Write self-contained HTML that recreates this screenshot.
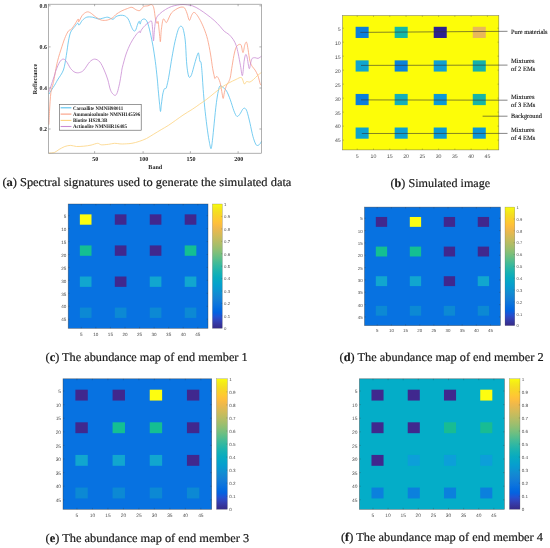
<!DOCTYPE html>
<html lang="en">
<head>
<meta charset="utf-8">
<title>Figure: simulated data and abundance maps</title>
<style>
html,body{margin:0;padding:0;background:#fff;}
body{width:550px;height:548px;overflow:hidden;}
svg{display:block;}
</style>
</head>
<body>
<svg width="550" height="548" viewBox="0 0 550 548" text-rendering="geometricPrecision">
<defs><linearGradient id="cb" x1="0" y1="0" x2="0" y2="1"><stop offset="0.0000" stop-color="#f9fb0e"/><stop offset="0.0312" stop-color="#f5eb18"/><stop offset="0.0625" stop-color="#f5de21"/><stop offset="0.0938" stop-color="#f9d329"/><stop offset="0.1250" stop-color="#fec932"/><stop offset="0.1562" stop-color="#febf3c"/><stop offset="0.1875" stop-color="#f2b949"/><stop offset="0.2188" stop-color="#e3b951"/><stop offset="0.2500" stop-color="#d3bb58"/><stop offset="0.2812" stop-color="#c2bc5f"/><stop offset="0.3125" stop-color="#b1bd66"/><stop offset="0.3438" stop-color="#9fbe6d"/><stop offset="0.3750" stop-color="#8bbf75"/><stop offset="0.4062" stop-color="#75bf7e"/><stop offset="0.4375" stop-color="#5ebe89"/><stop offset="0.4688" stop-color="#47bb95"/><stop offset="0.5000" stop-color="#33b8a1"/><stop offset="0.5312" stop-color="#21b4ac"/><stop offset="0.5625" stop-color="#13b0b6"/><stop offset="0.5938" stop-color="#09abbf"/><stop offset="0.6250" stop-color="#06a6c7"/><stop offset="0.6562" stop-color="#069fce"/><stop offset="0.6875" stop-color="#0a97d1"/><stop offset="0.7188" stop-color="#118dd2"/><stop offset="0.7500" stop-color="#1484d4"/><stop offset="0.7812" stop-color="#127cd8"/><stop offset="0.8125" stop-color="#0c74dd"/><stop offset="0.8438" stop-color="#046ce0"/><stop offset="0.8750" stop-color="#0462e0"/><stop offset="0.9062" stop-color="#2152d3"/><stop offset="0.9375" stop-color="#3243b9"/><stop offset="0.9688" stop-color="#36369f"/><stop offset="1.0000" stop-color="#352a87"/></linearGradient></defs>
<rect width="550" height="548" fill="#ffffff"/>
<g fill="none" stroke-width="0.8" stroke-linejoin="round">
<path d="M49.0 94.0C49.9 92.6 53.2 87.4 54.6 85.2C56.0 83.0 56.1 82.4 57.5 80.0C58.9 77.6 62.0 73.9 63.4 70.0C64.8 66.1 65.5 60.2 66.3 55.5C67.1 50.8 67.8 44.6 68.5 40.9C69.2 37.2 69.7 34.4 70.7 32.1C71.7 29.8 73.9 27.7 75.0 26.3C76.1 24.9 77.0 23.3 77.7 23.1C78.4 22.9 78.4 25.5 79.1 25.1C79.8 24.7 81.1 21.7 82.3 20.4C83.5 19.1 85.1 17.7 86.7 17.2C88.3 16.7 90.7 16.9 92.6 17.2C94.5 17.5 96.8 18.8 98.4 19.0C100.0 19.2 101.3 18.5 102.8 18.2C104.3 17.9 106.3 17.0 107.9 17.2C109.5 17.4 111.7 19.4 113.0 19.3C114.3 19.2 114.7 17.2 115.9 16.6C117.1 16.0 118.8 15.4 120.2 15.3C121.6 15.2 123.3 15.2 124.6 15.8C125.9 16.4 127.1 17.3 128.2 19.0C129.3 20.7 130.4 24.5 131.2 26.3C132.0 28.1 132.7 29.7 133.4 30.4C134.1 31.1 134.8 31.4 135.5 30.4C136.2 29.4 137.1 25.6 137.7 24.1C138.3 22.6 138.8 21.2 139.2 21.2C139.6 21.2 139.8 24.2 140.2 24.1C140.6 24.0 140.7 21.2 141.4 20.4C142.1 19.6 143.4 18.8 144.3 19.0C145.2 19.2 146.3 19.8 147.2 21.9C148.1 24.0 149.2 28.1 150.1 32.1C151.0 36.1 152.3 42.0 153.1 46.7C153.9 51.4 154.6 56.3 155.3 61.3C156.0 66.3 156.7 73.5 157.2 78.0C157.7 82.5 157.8 85.4 158.2 89.6C158.6 93.8 159.2 100.7 159.6 104.2C160.0 107.7 160.2 111.5 160.5 111.5C160.8 111.5 161.0 107.0 161.4 104.2C161.8 101.4 162.3 96.4 162.8 94.0C163.3 91.6 163.8 89.8 164.3 88.9C164.8 88.0 165.7 89.2 166.2 88.1C166.7 87.0 167.2 84.4 167.7 82.3C168.2 80.2 168.5 78.4 169.1 75.0C169.7 71.6 170.5 66.1 171.3 61.3C172.1 56.5 173.3 49.9 174.2 45.3C175.1 40.7 176.4 35.7 177.2 32.8C178.0 29.9 178.7 28.4 179.3 27.4C179.9 26.4 180.5 26.1 181.1 26.3C181.7 26.5 182.3 26.3 183.0 28.5C183.7 30.7 184.6 34.8 185.2 40.0C185.8 45.2 186.1 56.0 186.5 61.3C186.9 66.6 187.4 70.4 187.9 73.0C188.4 75.6 188.8 77.2 189.4 77.4C190.0 77.6 190.8 76.6 191.6 74.5C192.4 72.4 193.6 67.4 194.5 64.2C195.4 61.0 196.7 56.4 197.4 54.7C198.1 53.0 198.2 52.2 198.6 53.3C199.0 54.4 199.5 59.8 199.9 61.3C200.3 62.8 200.7 60.4 201.1 62.8C201.5 65.2 202.0 71.7 202.3 76.0C202.6 80.3 202.8 84.6 203.2 89.6C203.6 94.6 204.1 101.3 204.7 107.1C205.3 112.9 206.2 120.7 206.9 126.1C207.6 131.5 208.4 137.1 209.1 140.7C209.8 144.3 210.5 148.7 211.0 148.7C211.5 148.7 211.9 144.8 212.4 140.7C212.9 136.6 213.6 129.3 214.2 123.2C214.8 117.1 215.7 107.8 216.4 102.7C217.1 97.6 217.7 93.8 218.3 91.1C218.9 88.4 219.2 86.5 220.0 85.9C220.8 85.3 221.9 86.6 223.0 87.4C224.1 88.2 225.4 89.1 226.6 91.1C227.8 93.1 229.1 96.6 230.3 99.8C231.5 103.0 232.9 108.2 233.9 110.8C234.9 113.4 235.9 115.7 236.8 116.3C237.7 116.9 238.8 115.5 239.7 114.4C240.6 113.3 241.9 110.3 242.7 109.3C243.5 108.3 244.2 107.9 244.9 108.3C245.6 108.7 246.2 109.1 247.0 111.5C247.8 113.9 249.1 119.2 250.0 123.2C250.9 127.2 252.0 132.9 252.9 136.3C253.8 139.7 255.0 142.8 255.8 144.3C256.6 145.8 257.3 145.5 258.0 145.4C258.7 145.3 259.7 144.2 260.2 143.6C260.7 143.0 261.2 141.8 261.4 141.4" stroke="#56c0ee"/>
<path d="M48.9 124.6C49.0 122.5 49.2 116.6 49.5 111.5C49.8 106.4 50.3 96.9 50.9 92.5C51.5 88.1 52.6 85.8 53.1 83.8C53.6 81.8 53.2 83.6 53.9 80.0C54.6 76.4 56.2 66.6 57.5 61.3C58.8 56.0 60.6 50.7 61.9 46.7C63.2 42.7 64.4 39.0 65.5 36.5C66.6 34.0 67.6 32.1 68.5 30.9C69.4 29.7 70.4 30.3 71.4 29.2C72.4 28.1 73.9 25.7 75.0 24.1C76.1 22.5 77.6 19.4 78.2 19.0C78.8 18.6 78.0 22.5 78.7 21.9C79.4 21.3 81.0 16.9 82.3 15.3C83.6 13.7 85.4 12.4 86.7 12.0C88.0 11.6 89.0 12.0 90.4 12.8C91.8 13.6 93.8 15.6 95.5 16.8C97.2 18.0 99.4 19.6 101.3 20.1C103.2 20.6 105.3 20.5 107.2 20.1C109.1 19.7 111.6 18.4 113.0 17.5C114.4 16.6 114.4 15.7 115.8 14.6C117.2 13.5 119.8 11.9 121.7 10.9C123.6 9.9 125.9 9.1 127.5 8.5C129.1 7.9 130.5 7.1 131.9 7.3C133.3 7.5 135.0 9.4 136.3 9.9C137.6 10.4 138.7 11.0 139.9 10.5C141.1 10.0 142.3 7.4 143.6 6.6C144.9 5.8 146.7 6.1 148.0 5.8C149.3 5.5 150.7 4.2 151.6 4.6C152.5 5.0 153.2 5.7 153.8 8.0C154.4 10.3 155.0 16.5 155.5 19.0C156.0 21.5 156.6 22.9 157.0 23.4C157.4 23.9 157.8 20.0 158.2 21.9C158.6 23.8 159.2 31.8 159.6 35.0C160.0 38.2 160.1 42.5 160.4 41.6C160.7 40.7 160.9 32.8 161.4 29.2C161.9 25.6 162.5 20.1 163.3 19.0C164.1 17.9 165.4 22.6 166.2 22.6C167.0 22.6 167.6 20.5 168.4 19.0C169.2 17.5 170.1 14.6 171.3 13.1C172.5 11.6 174.3 10.4 175.7 9.5C177.1 8.6 178.8 7.7 180.1 7.3C181.4 6.9 182.8 6.9 183.7 7.3C184.6 7.7 184.9 8.4 185.5 9.5C186.1 10.6 186.6 12.2 187.2 13.9C187.8 15.6 188.7 20.2 189.4 20.4C190.1 20.6 190.9 16.6 191.6 15.3C192.3 14.0 193.0 12.5 193.8 12.4C194.6 12.3 195.7 13.3 196.7 14.6C197.7 15.9 199.1 18.2 200.3 20.4C201.5 22.6 202.8 25.5 204.0 28.5C205.2 31.5 206.6 35.3 207.6 39.4C208.6 43.5 209.7 49.3 210.5 54.0C211.3 58.7 212.1 65.1 212.7 68.6C213.3 72.1 213.8 74.3 214.2 75.9C214.6 77.5 214.4 78.5 214.9 78.6C215.4 78.7 216.3 75.9 217.1 76.5C217.9 77.1 219.2 79.5 220.0 82.3C220.8 85.1 221.7 91.4 222.2 94.0C222.7 96.6 222.8 98.6 223.2 98.4C223.6 98.2 223.9 94.6 224.4 92.5C224.9 90.4 225.9 86.9 226.6 85.2C227.3 83.5 228.2 82.9 228.8 81.6C229.4 80.3 229.9 79.1 230.4 77.0C230.9 74.9 231.1 72.0 231.7 68.6C232.3 65.2 233.2 58.9 233.9 55.5C234.6 52.1 235.3 49.2 236.1 47.4C236.9 45.6 238.2 44.8 239.0 44.5C239.8 44.2 240.6 44.0 241.2 45.3C241.8 46.6 242.4 52.7 243.0 52.6C243.6 52.5 244.3 46.1 244.9 44.5C245.5 42.9 246.1 41.5 246.6 42.3C247.1 43.1 247.6 46.6 248.1 49.6C248.6 52.6 249.3 58.6 250.0 61.3C250.7 64.0 251.4 65.0 252.2 66.4C253.0 67.8 254.2 68.6 255.1 70.1C256.0 71.6 257.2 73.7 258.0 75.9C258.8 78.1 259.7 82.3 260.2 83.8C260.7 85.3 261.2 85.0 261.4 85.2" stroke="#fa9d80"/>
<path d="M49.0 153.1C49.9 153.0 53.0 153.0 54.6 152.4C56.2 151.8 57.4 150.4 59.0 149.5C60.6 148.6 62.9 147.2 64.8 146.5C66.7 145.8 68.8 145.4 70.7 145.4C72.6 145.4 74.4 146.4 76.5 146.5C78.6 146.6 81.5 146.4 83.8 146.2C86.1 146.0 88.9 145.6 91.1 145.1C93.3 144.6 96.1 143.3 97.7 143.3C99.3 143.3 99.6 144.6 101.3 144.8C103.0 145.0 106.5 144.5 108.6 144.3C110.7 144.1 112.7 143.4 114.5 143.3C116.3 143.2 118.4 143.8 120.0 143.9C121.6 144.0 122.7 144.0 124.6 143.9C126.5 143.8 129.6 143.7 131.9 143.3C134.2 142.9 136.9 142.2 139.2 141.4C141.5 140.6 144.2 139.7 146.5 138.5C148.8 137.3 151.5 135.5 153.8 134.1C156.1 132.7 158.8 131.1 161.1 129.7C163.4 128.3 166.1 126.9 168.4 125.4C170.7 123.9 173.4 121.9 175.7 120.3C178.0 118.7 180.3 116.9 183.0 115.1C185.7 113.3 189.6 111.0 192.3 109.3C195.0 107.6 197.3 105.8 199.6 104.2C201.9 102.6 204.6 100.9 206.9 99.1C209.2 97.3 211.9 95.1 214.2 93.2C216.5 91.3 219.2 89.0 221.5 87.4C223.8 85.8 226.5 84.3 228.8 83.0C231.1 81.7 234.1 80.3 236.1 79.4C238.1 78.5 240.2 76.9 241.5 77.6C242.8 78.3 243.5 83.4 244.3 84.0C245.1 84.6 245.6 81.9 246.5 81.6C247.4 81.3 248.9 82.4 250.0 82.0C251.1 81.6 252.4 80.4 253.6 79.4C254.8 78.4 256.1 76.8 257.3 75.7C258.5 74.6 260.7 73.0 261.4 72.5" stroke="#fdd37f"/>
<path d="M49.0 91.8C49.5 90.5 50.8 86.5 51.7 83.8C52.6 81.1 53.9 77.2 54.6 75.0C55.3 72.8 55.3 72.1 56.1 70.0C56.9 67.9 58.6 63.7 59.7 62.0C60.8 60.3 62.0 59.2 63.1 59.1C64.2 59.0 65.1 59.8 66.3 61.3C67.5 62.8 69.3 66.8 70.7 68.6C72.1 70.4 73.6 71.7 75.0 72.3C76.4 72.9 78.0 73.0 79.4 72.6C80.8 72.2 82.2 71.8 83.8 70.1C85.4 68.4 87.9 63.8 89.6 62.0C91.3 60.2 93.1 59.1 94.7 59.1C96.3 59.1 98.4 60.2 99.9 62.0C101.4 63.8 102.9 67.2 104.2 70.1C105.5 73.0 107.0 77.0 107.9 80.0C108.8 83.0 109.4 86.8 110.1 88.9C110.8 91.0 111.4 92.2 112.2 93.2C113.0 94.2 114.3 95.5 115.1 95.4C115.9 95.3 116.6 94.4 117.3 92.5C118.0 90.6 118.8 86.9 119.5 83.8C120.2 80.7 120.9 75.7 121.4 73.0C121.9 70.3 121.6 70.2 122.4 67.2C123.2 64.2 124.8 57.7 126.1 54.0C127.4 50.3 129.0 46.6 130.4 43.8C131.8 41.0 133.4 38.5 134.8 36.5C136.2 34.5 138.3 32.0 139.2 31.4C140.1 30.8 139.8 33.0 140.2 32.8C140.6 32.6 140.6 31.1 141.4 29.9C142.2 28.7 143.8 26.7 145.0 25.5C146.2 24.3 147.6 23.3 148.7 22.6C149.8 21.9 151.0 20.1 151.6 21.2C152.2 22.3 152.3 26.0 152.6 29.2C152.9 32.4 153.2 40.9 153.5 40.9C153.8 40.9 154.1 32.7 154.5 29.2C154.9 25.7 155.2 21.4 156.0 19.0C156.8 16.6 158.1 15.4 159.6 13.9C161.1 12.4 163.6 10.7 165.5 9.5C167.4 8.3 169.4 7.3 171.3 6.6C173.2 5.9 175.3 5.4 177.2 5.1C179.1 4.8 180.6 4.4 183.0 4.5C185.4 4.6 189.6 5.0 192.3 5.8C195.0 6.6 197.3 8.1 199.6 9.5C201.9 10.9 204.6 12.9 206.9 14.6C209.2 16.3 212.1 18.5 214.2 20.4C216.3 22.3 218.4 24.5 220.0 26.3C221.6 28.1 223.0 30.1 224.4 31.4C225.8 32.7 227.4 33.0 228.8 34.3C230.2 35.6 232.0 37.6 233.2 39.4C234.4 41.2 235.3 43.0 236.1 45.3C236.9 47.6 237.6 50.7 238.3 54.0C239.0 57.3 239.8 62.2 240.5 65.7C241.2 69.2 241.8 76.3 242.4 75.6C243.0 74.9 243.6 64.6 244.1 61.3C244.6 58.0 245.1 55.4 245.6 54.7C246.1 54.0 246.4 54.7 247.0 56.9C247.6 59.1 248.6 67.7 249.2 68.6C249.8 69.5 250.2 64.4 250.7 62.8C251.2 61.2 251.5 59.2 252.2 58.4C252.9 57.6 254.2 57.7 255.1 57.7C256.0 57.7 257.0 58.6 258.0 58.4C259.0 58.2 260.9 56.6 261.4 56.2" stroke="#c98bd3"/>
</g>
<rect x="48.6" y="4.2" width="212.8" height="149.0" fill="none" stroke="#7c7c7c" stroke-width="0.6"/>
<path d="M94.6 153.2 v-2 M94.6 4.2 v2 M143.1 153.2 v-2 M143.1 4.2 v2 M190.4 153.2 v-2 M190.4 4.2 v2 M238.1 153.2 v-2 M238.1 4.2 v2 M48.6 5.8 h2 M261.4 5.8 h-2 M48.6 46.9 h2 M261.4 46.9 h-2 M48.6 88.0 h2 M261.4 88.0 h-2 M48.6 129.0 h2 M261.4 129.0 h-2" stroke="#7c7c7c" stroke-width="0.6" fill="none"/>
<text x="95.30" y="161.00" font-family="'Liberation Serif', 'Times New Roman', serif" font-size="6.10" text-anchor="middle" fill="#222" font-weight="bold">50</text>
<text x="143.80" y="161.00" font-family="'Liberation Serif', 'Times New Roman', serif" font-size="6.10" text-anchor="middle" fill="#222" font-weight="bold">100</text>
<text x="191.10" y="161.00" font-family="'Liberation Serif', 'Times New Roman', serif" font-size="6.10" text-anchor="middle" fill="#222" font-weight="bold">150</text>
<text x="238.80" y="161.00" font-family="'Liberation Serif', 'Times New Roman', serif" font-size="6.10" text-anchor="middle" fill="#222" font-weight="bold">200</text>
<text x="46.90" y="7.80" font-family="'Liberation Serif', 'Times New Roman', serif" font-size="5.90" text-anchor="end" fill="#222" font-weight="bold">0.8</text>
<text x="46.90" y="48.90" font-family="'Liberation Serif', 'Times New Roman', serif" font-size="5.90" text-anchor="end" fill="#222" font-weight="bold">0.6</text>
<text x="46.90" y="90.00" font-family="'Liberation Serif', 'Times New Roman', serif" font-size="5.90" text-anchor="end" fill="#222" font-weight="bold">0.4</text>
<text x="46.90" y="131.00" font-family="'Liberation Serif', 'Times New Roman', serif" font-size="5.90" text-anchor="end" fill="#222" font-weight="bold">0.2</text>
<text x="155.30" y="169.40" font-family="'Liberation Serif', 'Times New Roman', serif" font-size="6.10" text-anchor="middle" fill="#222" font-weight="bold">Band</text>
<text transform="translate(37.2 79) rotate(-90)" font-family="'Liberation Serif', 'Times New Roman', serif" font-size="6.2" font-weight="bold" text-anchor="middle" fill="#222">Reflectance</text>
<rect x="59.3" y="104.5" width="81.9" height="25.7" fill="#fff" stroke="#555" stroke-width="0.6"/>
<path d="M60.6 107.8 H71.4" stroke="#56c0ee" stroke-width="1.1"/>
<text x="73.00" y="109.60" font-family="'Liberation Serif', 'Times New Roman', serif" font-size="5.30" text-anchor="start" fill="#222" font-weight="bold" textLength="50.1" lengthAdjust="spacingAndGlyphs">Carnallite NMNH98011</text>
<path d="M60.6 114.1 H71.4" stroke="#fa9d80" stroke-width="1.1"/>
<text x="73.00" y="115.90" font-family="'Liberation Serif', 'Times New Roman', serif" font-size="5.30" text-anchor="start" fill="#222" font-weight="bold" textLength="67.2" lengthAdjust="spacingAndGlyphs">Ammonioalunite NMNH145596</text>
<path d="M60.6 120.4 H71.4" stroke="#fdd37f" stroke-width="1.1"/>
<text x="73.00" y="122.20" font-family="'Liberation Serif', 'Times New Roman', serif" font-size="5.30" text-anchor="start" fill="#222" font-weight="bold" textLength="34.4" lengthAdjust="spacingAndGlyphs">Biotite HS28.3B</text>
<path d="M60.6 126.5 H71.4" stroke="#c98bd3" stroke-width="1.1"/>
<text x="73.00" y="128.30" font-family="'Liberation Serif', 'Times New Roman', serif" font-size="5.30" text-anchor="start" fill="#222" font-weight="bold" textLength="53.9" lengthAdjust="spacingAndGlyphs">Actinolite NMNHR16485</text>
<rect x="342.60" y="15.60" width="156.20" height="134.30" fill="#fdfd08"/>
<rect x="355.62" y="26.79" width="13.02" height="11.19" fill="#0b7edc"/>
<rect x="394.67" y="26.79" width="13.02" height="11.19" fill="#14b8a8"/>
<rect x="433.72" y="26.79" width="13.02" height="11.19" fill="#2d2290"/>
<rect x="472.77" y="26.79" width="13.02" height="11.19" fill="#e8b85a"/>
<rect x="355.62" y="60.37" width="13.02" height="11.19" fill="#11a5cf"/>
<rect x="394.67" y="60.37" width="13.02" height="11.19" fill="#0b82da"/>
<rect x="433.72" y="60.37" width="13.02" height="11.19" fill="#11a0d3"/>
<rect x="472.77" y="60.37" width="13.02" height="11.19" fill="#16b1ab"/>
<rect x="355.62" y="93.94" width="13.02" height="11.19" fill="#0a7ddd"/>
<rect x="394.67" y="93.94" width="13.02" height="11.19" fill="#14afba"/>
<rect x="433.72" y="93.94" width="13.02" height="11.19" fill="#0c99d6"/>
<rect x="472.77" y="93.94" width="13.02" height="11.19" fill="#18b5a5"/>
<rect x="355.62" y="127.52" width="13.02" height="11.19" fill="#0ea3cf"/>
<rect x="394.67" y="127.52" width="13.02" height="11.19" fill="#0ea0d1"/>
<rect x="433.72" y="127.52" width="13.02" height="11.19" fill="#0c99d4"/>
<rect x="472.77" y="127.52" width="13.02" height="11.19" fill="#0b96d6"/>
<rect x="342.60" y="15.60" width="156.20" height="134.30" fill="none" stroke="#333" stroke-opacity="0.6" stroke-width="0.6"/>
<text x="357.24" y="157.60" font-family="'Liberation Sans', Arial, sans-serif" font-size="5.20" text-anchor="middle" fill="#4a4a4a" font-weight="normal">5</text>
<text x="340.70" y="30.56" font-family="'Liberation Sans', Arial, sans-serif" font-size="5.20" text-anchor="end" fill="#4a4a4a" font-weight="normal">5</text>
<text x="373.51" y="157.60" font-family="'Liberation Sans', Arial, sans-serif" font-size="5.20" text-anchor="middle" fill="#4a4a4a" font-weight="normal">10</text>
<text x="340.70" y="44.55" font-family="'Liberation Sans', Arial, sans-serif" font-size="5.20" text-anchor="end" fill="#4a4a4a" font-weight="normal">10</text>
<text x="389.79" y="157.60" font-family="'Liberation Sans', Arial, sans-serif" font-size="5.20" text-anchor="middle" fill="#4a4a4a" font-weight="normal">15</text>
<text x="340.70" y="58.54" font-family="'Liberation Sans', Arial, sans-serif" font-size="5.20" text-anchor="end" fill="#4a4a4a" font-weight="normal">15</text>
<text x="406.06" y="157.60" font-family="'Liberation Sans', Arial, sans-serif" font-size="5.20" text-anchor="middle" fill="#4a4a4a" font-weight="normal">20</text>
<text x="340.70" y="72.53" font-family="'Liberation Sans', Arial, sans-serif" font-size="5.20" text-anchor="end" fill="#4a4a4a" font-weight="normal">20</text>
<text x="422.33" y="157.60" font-family="'Liberation Sans', Arial, sans-serif" font-size="5.20" text-anchor="middle" fill="#4a4a4a" font-weight="normal">25</text>
<text x="340.70" y="86.52" font-family="'Liberation Sans', Arial, sans-serif" font-size="5.20" text-anchor="end" fill="#4a4a4a" font-weight="normal">25</text>
<text x="438.60" y="157.60" font-family="'Liberation Sans', Arial, sans-serif" font-size="5.20" text-anchor="middle" fill="#4a4a4a" font-weight="normal">30</text>
<text x="340.70" y="100.51" font-family="'Liberation Sans', Arial, sans-serif" font-size="5.20" text-anchor="end" fill="#4a4a4a" font-weight="normal">30</text>
<text x="454.87" y="157.60" font-family="'Liberation Sans', Arial, sans-serif" font-size="5.20" text-anchor="middle" fill="#4a4a4a" font-weight="normal">35</text>
<text x="340.70" y="114.50" font-family="'Liberation Sans', Arial, sans-serif" font-size="5.20" text-anchor="end" fill="#4a4a4a" font-weight="normal">35</text>
<text x="471.14" y="157.60" font-family="'Liberation Sans', Arial, sans-serif" font-size="5.20" text-anchor="middle" fill="#4a4a4a" font-weight="normal">40</text>
<text x="340.70" y="128.49" font-family="'Liberation Sans', Arial, sans-serif" font-size="5.20" text-anchor="end" fill="#4a4a4a" font-weight="normal">40</text>
<text x="487.41" y="157.60" font-family="'Liberation Sans', Arial, sans-serif" font-size="5.20" text-anchor="middle" fill="#4a4a4a" font-weight="normal">45</text>
<text x="340.70" y="142.48" font-family="'Liberation Sans', Arial, sans-serif" font-size="5.20" text-anchor="end" fill="#4a4a4a" font-weight="normal">45</text>
<path d="M357.24 149.90 v-1.4 M357.24 15.60 v1.4 M342.60 28.19 h1.4 M498.80 28.19 h-1.4 M373.51 149.90 v-1.4 M373.51 15.60 v1.4 M342.60 42.18 h1.4 M498.80 42.18 h-1.4 M389.79 149.90 v-1.4 M389.79 15.60 v1.4 M342.60 56.17 h1.4 M498.80 56.17 h-1.4 M406.06 149.90 v-1.4 M406.06 15.60 v1.4 M342.60 70.16 h1.4 M498.80 70.16 h-1.4 M422.33 149.90 v-1.4 M422.33 15.60 v1.4 M342.60 84.15 h1.4 M498.80 84.15 h-1.4 M438.60 149.90 v-1.4 M438.60 15.60 v1.4 M342.60 98.14 h1.4 M498.80 98.14 h-1.4 M454.87 149.90 v-1.4 M454.87 15.60 v1.4 M342.60 112.13 h1.4 M498.80 112.13 h-1.4 M471.14 149.90 v-1.4 M471.14 15.60 v1.4 M342.60 126.12 h1.4 M498.80 126.12 h-1.4 M487.41 149.90 v-1.4 M487.41 15.60 v1.4 M342.60 140.11 h1.4 M498.80 140.11 h-1.4" stroke="#333" stroke-opacity="0.6" stroke-width="0.45" fill="none"/>
<path d="M360.3 32.4 L507.5 31.3" stroke="#333" stroke-width="0.6"/>
<path d="M361.0 65.4 L507.5 65.1" stroke="#333" stroke-width="0.6"/>
<path d="M361.0 99.9 L507.5 100.2" stroke="#333" stroke-width="0.6"/>
<path d="M361.8 133.5 L507.5 133.4" stroke="#333" stroke-width="0.6"/>
<path d="M482.6 116.2 H507.5" stroke="#333" stroke-width="0.6"/>
<text x="511.00" y="33.60" font-family="'Liberation Serif', 'Times New Roman', serif" font-size="6.60" text-anchor="start" fill="#111" font-weight="normal" stroke="#111" stroke-width="0.12" textLength="36.6" lengthAdjust="spacingAndGlyphs">Pure materials</text>
<text x="511.00" y="63.20" font-family="'Liberation Serif', 'Times New Roman', serif" font-size="6.60" text-anchor="start" fill="#111" font-weight="normal" stroke="#111" stroke-width="0.12" textLength="23.5" lengthAdjust="spacingAndGlyphs">Mixtures</text>
<text x="511.00" y="71.40" font-family="'Liberation Serif', 'Times New Roman', serif" font-size="6.60" text-anchor="start" fill="#111" font-weight="normal" stroke="#111" stroke-width="0.12" textLength="24.2" lengthAdjust="spacingAndGlyphs">of 2 EMs</text>
<text x="511.00" y="99.20" font-family="'Liberation Serif', 'Times New Roman', serif" font-size="6.60" text-anchor="start" fill="#111" font-weight="normal" stroke="#111" stroke-width="0.12" textLength="23.5" lengthAdjust="spacingAndGlyphs">Mixtures</text>
<text x="511.00" y="106.60" font-family="'Liberation Serif', 'Times New Roman', serif" font-size="6.60" text-anchor="start" fill="#111" font-weight="normal" stroke="#111" stroke-width="0.12" textLength="24.2" lengthAdjust="spacingAndGlyphs">of 3 EMs</text>
<text x="511.00" y="118.40" font-family="'Liberation Serif', 'Times New Roman', serif" font-size="6.60" text-anchor="start" fill="#111" font-weight="normal" stroke="#111" stroke-width="0.12" textLength="30.8" lengthAdjust="spacingAndGlyphs">Background</text>
<text x="511.00" y="132.30" font-family="'Liberation Serif', 'Times New Roman', serif" font-size="6.60" text-anchor="start" fill="#111" font-weight="normal" stroke="#111" stroke-width="0.12" textLength="23.5" lengthAdjust="spacingAndGlyphs">Mixtures</text>
<text x="511.00" y="139.50" font-family="'Liberation Serif', 'Times New Roman', serif" font-size="6.60" text-anchor="start" fill="#111" font-weight="normal" stroke="#111" stroke-width="0.12" textLength="24.2" lengthAdjust="spacingAndGlyphs">of 4 EMs</text>
<rect x="68.20" y="204.00" width="139.80" height="124.30" fill="#0772e1"/>
<rect x="79.85" y="214.36" width="11.65" height="10.36" fill="#fdfd10"/>
<rect x="114.80" y="214.36" width="11.65" height="10.36" fill="#40288e"/>
<rect x="149.75" y="214.36" width="11.65" height="10.36" fill="#40288e"/>
<rect x="184.70" y="214.36" width="11.65" height="10.36" fill="#40288e"/>
<rect x="79.85" y="245.43" width="11.65" height="10.36" fill="#14bf92"/>
<rect x="114.80" y="245.43" width="11.65" height="10.36" fill="#40288e"/>
<rect x="149.75" y="245.43" width="11.65" height="10.36" fill="#40288e"/>
<rect x="184.70" y="245.43" width="11.65" height="10.36" fill="#14bf92"/>
<rect x="79.85" y="276.51" width="11.65" height="10.36" fill="#11a6cf"/>
<rect x="114.80" y="276.51" width="11.65" height="10.36" fill="#40288e"/>
<rect x="149.75" y="276.51" width="11.65" height="10.36" fill="#11a6cf"/>
<rect x="184.70" y="276.51" width="11.65" height="10.36" fill="#11a6cf"/>
<rect x="79.85" y="307.58" width="11.65" height="10.36" fill="#0c89d4"/>
<rect x="114.80" y="307.58" width="11.65" height="10.36" fill="#0c89d4"/>
<rect x="149.75" y="307.58" width="11.65" height="10.36" fill="#0c89d4"/>
<rect x="184.70" y="307.58" width="11.65" height="10.36" fill="#0c89d4"/>
<rect x="68.20" y="204.00" width="139.80" height="124.30" fill="none" stroke="#333" stroke-opacity="0.6" stroke-width="0.6"/>
<text x="81.31" y="335.50" font-family="'Liberation Sans', Arial, sans-serif" font-size="4.60" text-anchor="middle" fill="#4a4a4a" font-weight="normal">5</text>
<text x="66.30" y="217.81" font-family="'Liberation Sans', Arial, sans-serif" font-size="4.60" text-anchor="end" fill="#4a4a4a" font-weight="normal">5</text>
<text x="95.87" y="335.50" font-family="'Liberation Sans', Arial, sans-serif" font-size="4.60" text-anchor="middle" fill="#4a4a4a" font-weight="normal">10</text>
<text x="66.30" y="230.76" font-family="'Liberation Sans', Arial, sans-serif" font-size="4.60" text-anchor="end" fill="#4a4a4a" font-weight="normal">10</text>
<text x="110.43" y="335.50" font-family="'Liberation Sans', Arial, sans-serif" font-size="4.60" text-anchor="middle" fill="#4a4a4a" font-weight="normal">15</text>
<text x="66.30" y="243.70" font-family="'Liberation Sans', Arial, sans-serif" font-size="4.60" text-anchor="end" fill="#4a4a4a" font-weight="normal">15</text>
<text x="124.99" y="335.50" font-family="'Liberation Sans', Arial, sans-serif" font-size="4.60" text-anchor="middle" fill="#4a4a4a" font-weight="normal">20</text>
<text x="66.30" y="256.65" font-family="'Liberation Sans', Arial, sans-serif" font-size="4.60" text-anchor="end" fill="#4a4a4a" font-weight="normal">20</text>
<text x="139.56" y="335.50" font-family="'Liberation Sans', Arial, sans-serif" font-size="4.60" text-anchor="middle" fill="#4a4a4a" font-weight="normal">25</text>
<text x="66.30" y="269.60" font-family="'Liberation Sans', Arial, sans-serif" font-size="4.60" text-anchor="end" fill="#4a4a4a" font-weight="normal">25</text>
<text x="154.12" y="335.50" font-family="'Liberation Sans', Arial, sans-serif" font-size="4.60" text-anchor="middle" fill="#4a4a4a" font-weight="normal">30</text>
<text x="66.30" y="282.55" font-family="'Liberation Sans', Arial, sans-serif" font-size="4.60" text-anchor="end" fill="#4a4a4a" font-weight="normal">30</text>
<text x="168.68" y="335.50" font-family="'Liberation Sans', Arial, sans-serif" font-size="4.60" text-anchor="middle" fill="#4a4a4a" font-weight="normal">35</text>
<text x="66.30" y="295.50" font-family="'Liberation Sans', Arial, sans-serif" font-size="4.60" text-anchor="end" fill="#4a4a4a" font-weight="normal">35</text>
<text x="183.24" y="335.50" font-family="'Liberation Sans', Arial, sans-serif" font-size="4.60" text-anchor="middle" fill="#4a4a4a" font-weight="normal">40</text>
<text x="66.30" y="308.44" font-family="'Liberation Sans', Arial, sans-serif" font-size="4.60" text-anchor="end" fill="#4a4a4a" font-weight="normal">40</text>
<text x="197.81" y="335.50" font-family="'Liberation Sans', Arial, sans-serif" font-size="4.60" text-anchor="middle" fill="#4a4a4a" font-weight="normal">45</text>
<text x="66.30" y="321.39" font-family="'Liberation Sans', Arial, sans-serif" font-size="4.60" text-anchor="end" fill="#4a4a4a" font-weight="normal">45</text>
<path d="M81.31 328.30 v-1.4 M81.31 204.00 v1.4 M68.20 215.65 h1.4 M208.00 215.65 h-1.4 M95.87 328.30 v-1.4 M95.87 204.00 v1.4 M68.20 228.60 h1.4 M208.00 228.60 h-1.4 M110.43 328.30 v-1.4 M110.43 204.00 v1.4 M68.20 241.55 h1.4 M208.00 241.55 h-1.4 M124.99 328.30 v-1.4 M124.99 204.00 v1.4 M68.20 254.50 h1.4 M208.00 254.50 h-1.4 M139.56 328.30 v-1.4 M139.56 204.00 v1.4 M68.20 267.44 h1.4 M208.00 267.44 h-1.4 M154.12 328.30 v-1.4 M154.12 204.00 v1.4 M68.20 280.39 h1.4 M208.00 280.39 h-1.4 M168.68 328.30 v-1.4 M168.68 204.00 v1.4 M68.20 293.34 h1.4 M208.00 293.34 h-1.4 M183.24 328.30 v-1.4 M183.24 204.00 v1.4 M68.20 306.29 h1.4 M208.00 306.29 h-1.4 M197.81 328.30 v-1.4 M197.81 204.00 v1.4 M68.20 319.24 h1.4 M208.00 319.24 h-1.4" stroke="#333" stroke-opacity="0.6" stroke-width="0.45" fill="none"/>
<rect x="212.40" y="204.00" width="9.90" height="124.30" fill="url(#cb)" stroke="#555" stroke-opacity="0.6" stroke-width="0.4"/>
<text x="224.10" y="330.16" font-family="'Liberation Sans', Arial, sans-serif" font-size="4.28" text-anchor="start" fill="#4a4a4a" font-weight="normal">0</text>
<text x="224.10" y="317.73" font-family="'Liberation Sans', Arial, sans-serif" font-size="4.28" text-anchor="start" fill="#4a4a4a" font-weight="normal">0.1</text>
<text x="224.10" y="305.30" font-family="'Liberation Sans', Arial, sans-serif" font-size="4.28" text-anchor="start" fill="#4a4a4a" font-weight="normal">0.2</text>
<text x="224.10" y="292.87" font-family="'Liberation Sans', Arial, sans-serif" font-size="4.28" text-anchor="start" fill="#4a4a4a" font-weight="normal">0.3</text>
<text x="224.10" y="280.44" font-family="'Liberation Sans', Arial, sans-serif" font-size="4.28" text-anchor="start" fill="#4a4a4a" font-weight="normal">0.4</text>
<text x="224.10" y="268.01" font-family="'Liberation Sans', Arial, sans-serif" font-size="4.28" text-anchor="start" fill="#4a4a4a" font-weight="normal">0.5</text>
<text x="224.10" y="255.58" font-family="'Liberation Sans', Arial, sans-serif" font-size="4.28" text-anchor="start" fill="#4a4a4a" font-weight="normal">0.6</text>
<text x="224.10" y="243.15" font-family="'Liberation Sans', Arial, sans-serif" font-size="4.28" text-anchor="start" fill="#4a4a4a" font-weight="normal">0.7</text>
<text x="224.10" y="230.72" font-family="'Liberation Sans', Arial, sans-serif" font-size="4.28" text-anchor="start" fill="#4a4a4a" font-weight="normal">0.8</text>
<text x="224.10" y="218.29" font-family="'Liberation Sans', Arial, sans-serif" font-size="4.28" text-anchor="start" fill="#4a4a4a" font-weight="normal">0.9</text>
<text x="224.10" y="205.86" font-family="'Liberation Sans', Arial, sans-serif" font-size="4.28" text-anchor="start" fill="#4a4a4a" font-weight="normal">1</text>
<path d="M222.30 315.87 h-1.2 M222.30 303.44 h-1.2 M222.30 291.01 h-1.2 M222.30 278.58 h-1.2 M222.30 266.15 h-1.2 M222.30 253.72 h-1.2 M222.30 241.29 h-1.2 M222.30 228.86 h-1.2 M222.30 216.43 h-1.2" stroke="#333" stroke-opacity="0.55" stroke-width="0.4" fill="none"/>
<rect x="364.50" y="207.10" width="135.90" height="118.50" fill="#0772e1"/>
<rect x="375.82" y="216.97" width="11.32" height="9.88" fill="#40288e"/>
<rect x="409.80" y="216.97" width="11.32" height="9.88" fill="#fdfd10"/>
<rect x="443.77" y="216.97" width="11.32" height="9.88" fill="#40288e"/>
<rect x="477.75" y="216.97" width="11.32" height="9.88" fill="#40288e"/>
<rect x="375.82" y="246.60" width="11.32" height="9.88" fill="#14bf92"/>
<rect x="409.80" y="246.60" width="11.32" height="9.88" fill="#14bf92"/>
<rect x="443.77" y="246.60" width="11.32" height="9.88" fill="#40288e"/>
<rect x="477.75" y="246.60" width="11.32" height="9.88" fill="#40288e"/>
<rect x="375.82" y="276.23" width="11.32" height="9.88" fill="#11a6cf"/>
<rect x="409.80" y="276.23" width="11.32" height="9.88" fill="#11a6cf"/>
<rect x="443.77" y="276.23" width="11.32" height="9.88" fill="#40288e"/>
<rect x="477.75" y="276.23" width="11.32" height="9.88" fill="#11a6cf"/>
<rect x="375.82" y="305.85" width="11.32" height="9.88" fill="#0c89d4"/>
<rect x="409.80" y="305.85" width="11.32" height="9.88" fill="#0c89d4"/>
<rect x="443.77" y="305.85" width="11.32" height="9.88" fill="#0c89d4"/>
<rect x="477.75" y="305.85" width="11.32" height="9.88" fill="#0c89d4"/>
<rect x="364.50" y="207.10" width="135.90" height="118.50" fill="none" stroke="#333" stroke-opacity="0.6" stroke-width="0.6"/>
<text x="377.24" y="332.40" font-family="'Liberation Sans', Arial, sans-serif" font-size="4.40" text-anchor="middle" fill="#4a4a4a" font-weight="normal">5</text>
<text x="362.60" y="220.29" font-family="'Liberation Sans', Arial, sans-serif" font-size="4.40" text-anchor="end" fill="#4a4a4a" font-weight="normal">5</text>
<text x="391.40" y="332.40" font-family="'Liberation Sans', Arial, sans-serif" font-size="4.40" text-anchor="middle" fill="#4a4a4a" font-weight="normal">10</text>
<text x="362.60" y="232.64" font-family="'Liberation Sans', Arial, sans-serif" font-size="4.40" text-anchor="end" fill="#4a4a4a" font-weight="normal">10</text>
<text x="405.55" y="332.40" font-family="'Liberation Sans', Arial, sans-serif" font-size="4.40" text-anchor="middle" fill="#4a4a4a" font-weight="normal">15</text>
<text x="362.60" y="244.98" font-family="'Liberation Sans', Arial, sans-serif" font-size="4.40" text-anchor="end" fill="#4a4a4a" font-weight="normal">15</text>
<text x="419.71" y="332.40" font-family="'Liberation Sans', Arial, sans-serif" font-size="4.40" text-anchor="middle" fill="#4a4a4a" font-weight="normal">20</text>
<text x="362.60" y="257.32" font-family="'Liberation Sans', Arial, sans-serif" font-size="4.40" text-anchor="end" fill="#4a4a4a" font-weight="normal">20</text>
<text x="433.87" y="332.40" font-family="'Liberation Sans', Arial, sans-serif" font-size="4.40" text-anchor="middle" fill="#4a4a4a" font-weight="normal">25</text>
<text x="362.60" y="269.67" font-family="'Liberation Sans', Arial, sans-serif" font-size="4.40" text-anchor="end" fill="#4a4a4a" font-weight="normal">25</text>
<text x="448.02" y="332.40" font-family="'Liberation Sans', Arial, sans-serif" font-size="4.40" text-anchor="middle" fill="#4a4a4a" font-weight="normal">30</text>
<text x="362.60" y="282.01" font-family="'Liberation Sans', Arial, sans-serif" font-size="4.40" text-anchor="end" fill="#4a4a4a" font-weight="normal">30</text>
<text x="462.18" y="332.40" font-family="'Liberation Sans', Arial, sans-serif" font-size="4.40" text-anchor="middle" fill="#4a4a4a" font-weight="normal">35</text>
<text x="362.60" y="294.36" font-family="'Liberation Sans', Arial, sans-serif" font-size="4.40" text-anchor="end" fill="#4a4a4a" font-weight="normal">35</text>
<text x="476.33" y="332.40" font-family="'Liberation Sans', Arial, sans-serif" font-size="4.40" text-anchor="middle" fill="#4a4a4a" font-weight="normal">40</text>
<text x="362.60" y="306.70" font-family="'Liberation Sans', Arial, sans-serif" font-size="4.40" text-anchor="end" fill="#4a4a4a" font-weight="normal">40</text>
<text x="490.49" y="332.40" font-family="'Liberation Sans', Arial, sans-serif" font-size="4.40" text-anchor="middle" fill="#4a4a4a" font-weight="normal">45</text>
<text x="362.60" y="319.04" font-family="'Liberation Sans', Arial, sans-serif" font-size="4.40" text-anchor="end" fill="#4a4a4a" font-weight="normal">45</text>
<path d="M377.24 325.60 v-1.4 M377.24 207.10 v1.4 M364.50 218.21 h1.4 M500.40 218.21 h-1.4 M391.40 325.60 v-1.4 M391.40 207.10 v1.4 M364.50 230.55 h1.4 M500.40 230.55 h-1.4 M405.55 325.60 v-1.4 M405.55 207.10 v1.4 M364.50 242.90 h1.4 M500.40 242.90 h-1.4 M419.71 325.60 v-1.4 M419.71 207.10 v1.4 M364.50 255.24 h1.4 M500.40 255.24 h-1.4 M433.87 325.60 v-1.4 M433.87 207.10 v1.4 M364.50 267.58 h1.4 M500.40 267.58 h-1.4 M448.02 325.60 v-1.4 M448.02 207.10 v1.4 M364.50 279.93 h1.4 M500.40 279.93 h-1.4 M462.18 325.60 v-1.4 M462.18 207.10 v1.4 M364.50 292.27 h1.4 M500.40 292.27 h-1.4 M476.33 325.60 v-1.4 M476.33 207.10 v1.4 M364.50 304.62 h1.4 M500.40 304.62 h-1.4 M490.49 325.60 v-1.4 M490.49 207.10 v1.4 M364.50 316.96 h1.4 M500.40 316.96 h-1.4" stroke="#333" stroke-opacity="0.6" stroke-width="0.45" fill="none"/>
<rect x="505.00" y="207.10" width="9.80" height="118.50" fill="url(#cb)" stroke="#555" stroke-opacity="0.6" stroke-width="0.4"/>
<text x="516.60" y="327.38" font-family="'Liberation Sans', Arial, sans-serif" font-size="4.09" text-anchor="start" fill="#4a4a4a" font-weight="normal">0</text>
<text x="516.60" y="315.53" font-family="'Liberation Sans', Arial, sans-serif" font-size="4.09" text-anchor="start" fill="#4a4a4a" font-weight="normal">0.1</text>
<text x="516.60" y="303.68" font-family="'Liberation Sans', Arial, sans-serif" font-size="4.09" text-anchor="start" fill="#4a4a4a" font-weight="normal">0.2</text>
<text x="516.60" y="291.83" font-family="'Liberation Sans', Arial, sans-serif" font-size="4.09" text-anchor="start" fill="#4a4a4a" font-weight="normal">0.3</text>
<text x="516.60" y="279.98" font-family="'Liberation Sans', Arial, sans-serif" font-size="4.09" text-anchor="start" fill="#4a4a4a" font-weight="normal">0.4</text>
<text x="516.60" y="268.13" font-family="'Liberation Sans', Arial, sans-serif" font-size="4.09" text-anchor="start" fill="#4a4a4a" font-weight="normal">0.5</text>
<text x="516.60" y="256.28" font-family="'Liberation Sans', Arial, sans-serif" font-size="4.09" text-anchor="start" fill="#4a4a4a" font-weight="normal">0.6</text>
<text x="516.60" y="244.43" font-family="'Liberation Sans', Arial, sans-serif" font-size="4.09" text-anchor="start" fill="#4a4a4a" font-weight="normal">0.7</text>
<text x="516.60" y="232.58" font-family="'Liberation Sans', Arial, sans-serif" font-size="4.09" text-anchor="start" fill="#4a4a4a" font-weight="normal">0.8</text>
<text x="516.60" y="220.73" font-family="'Liberation Sans', Arial, sans-serif" font-size="4.09" text-anchor="start" fill="#4a4a4a" font-weight="normal">0.9</text>
<text x="516.60" y="208.88" font-family="'Liberation Sans', Arial, sans-serif" font-size="4.09" text-anchor="start" fill="#4a4a4a" font-weight="normal">1</text>
<path d="M514.80 313.75 h-1.2 M514.80 301.90 h-1.2 M514.80 290.05 h-1.2 M514.80 278.20 h-1.2 M514.80 266.35 h-1.2 M514.80 254.50 h-1.2 M514.80 242.65 h-1.2 M514.80 230.80 h-1.2 M514.80 218.95 h-1.2" stroke="#333" stroke-opacity="0.55" stroke-width="0.4" fill="none"/>
<rect x="63.00" y="378.80" width="148.70" height="130.50" fill="#0772e1"/>
<rect x="75.39" y="389.68" width="12.39" height="10.88" fill="#40288e"/>
<rect x="112.57" y="389.68" width="12.39" height="10.88" fill="#40288e"/>
<rect x="149.74" y="389.68" width="12.39" height="10.88" fill="#fdfd10"/>
<rect x="186.92" y="389.68" width="12.39" height="10.88" fill="#40288e"/>
<rect x="75.39" y="422.30" width="12.39" height="10.88" fill="#40288e"/>
<rect x="112.57" y="422.30" width="12.39" height="10.88" fill="#14bf92"/>
<rect x="149.74" y="422.30" width="12.39" height="10.88" fill="#14bf92"/>
<rect x="186.92" y="422.30" width="12.39" height="10.88" fill="#40288e"/>
<rect x="75.39" y="454.93" width="12.39" height="10.88" fill="#11a6cf"/>
<rect x="112.57" y="454.93" width="12.39" height="10.88" fill="#11a6cf"/>
<rect x="149.74" y="454.93" width="12.39" height="10.88" fill="#11a6cf"/>
<rect x="186.92" y="454.93" width="12.39" height="10.88" fill="#40288e"/>
<rect x="75.39" y="487.55" width="12.39" height="10.88" fill="#0c89d4"/>
<rect x="112.57" y="487.55" width="12.39" height="10.88" fill="#0c89d4"/>
<rect x="149.74" y="487.55" width="12.39" height="10.88" fill="#0c89d4"/>
<rect x="186.92" y="487.55" width="12.39" height="10.88" fill="#0c89d4"/>
<rect x="63.00" y="378.80" width="148.70" height="130.50" fill="none" stroke="#333" stroke-opacity="0.6" stroke-width="0.6"/>
<text x="76.94" y="516.70" font-family="'Liberation Sans', Arial, sans-serif" font-size="4.90" text-anchor="middle" fill="#4a4a4a" font-weight="normal">5</text>
<text x="61.10" y="393.30" font-family="'Liberation Sans', Arial, sans-serif" font-size="4.90" text-anchor="end" fill="#4a4a4a" font-weight="normal">5</text>
<text x="92.43" y="516.70" font-family="'Liberation Sans', Arial, sans-serif" font-size="4.90" text-anchor="middle" fill="#4a4a4a" font-weight="normal">10</text>
<text x="61.10" y="406.89" font-family="'Liberation Sans', Arial, sans-serif" font-size="4.90" text-anchor="end" fill="#4a4a4a" font-weight="normal">10</text>
<text x="107.92" y="516.70" font-family="'Liberation Sans', Arial, sans-serif" font-size="4.90" text-anchor="middle" fill="#4a4a4a" font-weight="normal">15</text>
<text x="61.10" y="420.49" font-family="'Liberation Sans', Arial, sans-serif" font-size="4.90" text-anchor="end" fill="#4a4a4a" font-weight="normal">15</text>
<text x="123.41" y="516.70" font-family="'Liberation Sans', Arial, sans-serif" font-size="4.90" text-anchor="middle" fill="#4a4a4a" font-weight="normal">20</text>
<text x="61.10" y="434.08" font-family="'Liberation Sans', Arial, sans-serif" font-size="4.90" text-anchor="end" fill="#4a4a4a" font-weight="normal">20</text>
<text x="138.90" y="516.70" font-family="'Liberation Sans', Arial, sans-serif" font-size="4.90" text-anchor="middle" fill="#4a4a4a" font-weight="normal">25</text>
<text x="61.10" y="447.67" font-family="'Liberation Sans', Arial, sans-serif" font-size="4.90" text-anchor="end" fill="#4a4a4a" font-weight="normal">25</text>
<text x="154.39" y="516.70" font-family="'Liberation Sans', Arial, sans-serif" font-size="4.90" text-anchor="middle" fill="#4a4a4a" font-weight="normal">30</text>
<text x="61.10" y="461.27" font-family="'Liberation Sans', Arial, sans-serif" font-size="4.90" text-anchor="end" fill="#4a4a4a" font-weight="normal">30</text>
<text x="169.88" y="516.70" font-family="'Liberation Sans', Arial, sans-serif" font-size="4.90" text-anchor="middle" fill="#4a4a4a" font-weight="normal">35</text>
<text x="61.10" y="474.86" font-family="'Liberation Sans', Arial, sans-serif" font-size="4.90" text-anchor="end" fill="#4a4a4a" font-weight="normal">35</text>
<text x="185.37" y="516.70" font-family="'Liberation Sans', Arial, sans-serif" font-size="4.90" text-anchor="middle" fill="#4a4a4a" font-weight="normal">40</text>
<text x="61.10" y="488.45" font-family="'Liberation Sans', Arial, sans-serif" font-size="4.90" text-anchor="end" fill="#4a4a4a" font-weight="normal">40</text>
<text x="200.86" y="516.70" font-family="'Liberation Sans', Arial, sans-serif" font-size="4.90" text-anchor="middle" fill="#4a4a4a" font-weight="normal">45</text>
<text x="61.10" y="502.05" font-family="'Liberation Sans', Arial, sans-serif" font-size="4.90" text-anchor="end" fill="#4a4a4a" font-weight="normal">45</text>
<path d="M76.94 509.30 v-1.4 M76.94 378.80 v1.4 M63.00 391.03 h1.4 M211.70 391.03 h-1.4 M92.43 509.30 v-1.4 M92.43 378.80 v1.4 M63.00 404.63 h1.4 M211.70 404.63 h-1.4 M107.92 509.30 v-1.4 M107.92 378.80 v1.4 M63.00 418.22 h1.4 M211.70 418.22 h-1.4 M123.41 509.30 v-1.4 M123.41 378.80 v1.4 M63.00 431.82 h1.4 M211.70 431.82 h-1.4 M138.90 509.30 v-1.4 M138.90 378.80 v1.4 M63.00 445.41 h1.4 M211.70 445.41 h-1.4 M154.39 509.30 v-1.4 M154.39 378.80 v1.4 M63.00 459.00 h1.4 M211.70 459.00 h-1.4 M169.88 509.30 v-1.4 M169.88 378.80 v1.4 M63.00 472.60 h1.4 M211.70 472.60 h-1.4 M185.37 509.30 v-1.4 M185.37 378.80 v1.4 M63.00 486.19 h1.4 M211.70 486.19 h-1.4 M200.86 509.30 v-1.4 M200.86 378.80 v1.4 M63.00 499.78 h1.4 M211.70 499.78 h-1.4" stroke="#333" stroke-opacity="0.6" stroke-width="0.45" fill="none"/>
<rect x="216.50" y="378.80" width="10.90" height="130.50" fill="url(#cb)" stroke="#555" stroke-opacity="0.6" stroke-width="0.4"/>
<text x="229.20" y="511.26" font-family="'Liberation Sans', Arial, sans-serif" font-size="4.56" text-anchor="start" fill="#4a4a4a" font-weight="normal">0</text>
<text x="229.20" y="498.21" font-family="'Liberation Sans', Arial, sans-serif" font-size="4.56" text-anchor="start" fill="#4a4a4a" font-weight="normal">0.1</text>
<text x="229.20" y="485.16" font-family="'Liberation Sans', Arial, sans-serif" font-size="4.56" text-anchor="start" fill="#4a4a4a" font-weight="normal">0.2</text>
<text x="229.20" y="472.11" font-family="'Liberation Sans', Arial, sans-serif" font-size="4.56" text-anchor="start" fill="#4a4a4a" font-weight="normal">0.3</text>
<text x="229.20" y="459.06" font-family="'Liberation Sans', Arial, sans-serif" font-size="4.56" text-anchor="start" fill="#4a4a4a" font-weight="normal">0.4</text>
<text x="229.20" y="446.01" font-family="'Liberation Sans', Arial, sans-serif" font-size="4.56" text-anchor="start" fill="#4a4a4a" font-weight="normal">0.5</text>
<text x="229.20" y="432.96" font-family="'Liberation Sans', Arial, sans-serif" font-size="4.56" text-anchor="start" fill="#4a4a4a" font-weight="normal">0.6</text>
<text x="229.20" y="419.91" font-family="'Liberation Sans', Arial, sans-serif" font-size="4.56" text-anchor="start" fill="#4a4a4a" font-weight="normal">0.7</text>
<text x="229.20" y="406.86" font-family="'Liberation Sans', Arial, sans-serif" font-size="4.56" text-anchor="start" fill="#4a4a4a" font-weight="normal">0.8</text>
<text x="229.20" y="393.81" font-family="'Liberation Sans', Arial, sans-serif" font-size="4.56" text-anchor="start" fill="#4a4a4a" font-weight="normal">0.9</text>
<text x="229.20" y="380.76" font-family="'Liberation Sans', Arial, sans-serif" font-size="4.56" text-anchor="start" fill="#4a4a4a" font-weight="normal">1</text>
<path d="M227.40 496.25 h-1.2 M227.40 483.20 h-1.2 M227.40 470.15 h-1.2 M227.40 457.10 h-1.2 M227.40 444.05 h-1.2 M227.40 431.00 h-1.2 M227.40 417.95 h-1.2 M227.40 404.90 h-1.2 M227.40 391.85 h-1.2" stroke="#333" stroke-opacity="0.55" stroke-width="0.4" fill="none"/>
<rect x="359.40" y="378.80" width="145.00" height="130.50" fill="#04adc8"/>
<rect x="371.48" y="389.68" width="12.08" height="10.88" fill="#40288e"/>
<rect x="407.73" y="389.68" width="12.08" height="10.88" fill="#40288e"/>
<rect x="443.98" y="389.68" width="12.08" height="10.88" fill="#40288e"/>
<rect x="480.23" y="389.68" width="12.08" height="10.88" fill="#fdfd10"/>
<rect x="371.48" y="422.30" width="12.08" height="10.88" fill="#40288e"/>
<rect x="407.73" y="422.30" width="12.08" height="10.88" fill="#40288e"/>
<rect x="443.98" y="422.30" width="12.08" height="10.88" fill="#18bc93"/>
<rect x="480.23" y="422.30" width="12.08" height="10.88" fill="#18bc93"/>
<rect x="371.48" y="454.93" width="12.08" height="10.88" fill="#40288e"/>
<rect x="407.73" y="454.93" width="12.08" height="10.88" fill="#0c9fd9"/>
<rect x="443.98" y="454.93" width="12.08" height="10.88" fill="#0c9fd9"/>
<rect x="480.23" y="454.93" width="12.08" height="10.88" fill="#0c9fd9"/>
<rect x="371.48" y="487.55" width="12.08" height="10.88" fill="#0b80dd"/>
<rect x="407.73" y="487.55" width="12.08" height="10.88" fill="#0b80dd"/>
<rect x="443.98" y="487.55" width="12.08" height="10.88" fill="#0b80dd"/>
<rect x="480.23" y="487.55" width="12.08" height="10.88" fill="#0b80dd"/>
<rect x="359.40" y="378.80" width="145.00" height="130.50" fill="none" stroke="#333" stroke-opacity="0.6" stroke-width="0.6"/>
<text x="372.99" y="516.70" font-family="'Liberation Sans', Arial, sans-serif" font-size="4.90" text-anchor="middle" fill="#4a4a4a" font-weight="normal">5</text>
<text x="357.50" y="393.30" font-family="'Liberation Sans', Arial, sans-serif" font-size="4.90" text-anchor="end" fill="#4a4a4a" font-weight="normal">5</text>
<text x="388.10" y="516.70" font-family="'Liberation Sans', Arial, sans-serif" font-size="4.90" text-anchor="middle" fill="#4a4a4a" font-weight="normal">10</text>
<text x="357.50" y="406.89" font-family="'Liberation Sans', Arial, sans-serif" font-size="4.90" text-anchor="end" fill="#4a4a4a" font-weight="normal">10</text>
<text x="403.20" y="516.70" font-family="'Liberation Sans', Arial, sans-serif" font-size="4.90" text-anchor="middle" fill="#4a4a4a" font-weight="normal">15</text>
<text x="357.50" y="420.49" font-family="'Liberation Sans', Arial, sans-serif" font-size="4.90" text-anchor="end" fill="#4a4a4a" font-weight="normal">15</text>
<text x="418.31" y="516.70" font-family="'Liberation Sans', Arial, sans-serif" font-size="4.90" text-anchor="middle" fill="#4a4a4a" font-weight="normal">20</text>
<text x="357.50" y="434.08" font-family="'Liberation Sans', Arial, sans-serif" font-size="4.90" text-anchor="end" fill="#4a4a4a" font-weight="normal">20</text>
<text x="433.41" y="516.70" font-family="'Liberation Sans', Arial, sans-serif" font-size="4.90" text-anchor="middle" fill="#4a4a4a" font-weight="normal">25</text>
<text x="357.50" y="447.67" font-family="'Liberation Sans', Arial, sans-serif" font-size="4.90" text-anchor="end" fill="#4a4a4a" font-weight="normal">25</text>
<text x="448.51" y="516.70" font-family="'Liberation Sans', Arial, sans-serif" font-size="4.90" text-anchor="middle" fill="#4a4a4a" font-weight="normal">30</text>
<text x="357.50" y="461.27" font-family="'Liberation Sans', Arial, sans-serif" font-size="4.90" text-anchor="end" fill="#4a4a4a" font-weight="normal">30</text>
<text x="463.62" y="516.70" font-family="'Liberation Sans', Arial, sans-serif" font-size="4.90" text-anchor="middle" fill="#4a4a4a" font-weight="normal">35</text>
<text x="357.50" y="474.86" font-family="'Liberation Sans', Arial, sans-serif" font-size="4.90" text-anchor="end" fill="#4a4a4a" font-weight="normal">35</text>
<text x="478.72" y="516.70" font-family="'Liberation Sans', Arial, sans-serif" font-size="4.90" text-anchor="middle" fill="#4a4a4a" font-weight="normal">40</text>
<text x="357.50" y="488.45" font-family="'Liberation Sans', Arial, sans-serif" font-size="4.90" text-anchor="end" fill="#4a4a4a" font-weight="normal">40</text>
<text x="493.83" y="516.70" font-family="'Liberation Sans', Arial, sans-serif" font-size="4.90" text-anchor="middle" fill="#4a4a4a" font-weight="normal">45</text>
<text x="357.50" y="502.05" font-family="'Liberation Sans', Arial, sans-serif" font-size="4.90" text-anchor="end" fill="#4a4a4a" font-weight="normal">45</text>
<path d="M372.99 509.30 v-1.4 M372.99 378.80 v1.4 M359.40 391.03 h1.4 M504.40 391.03 h-1.4 M388.10 509.30 v-1.4 M388.10 378.80 v1.4 M359.40 404.63 h1.4 M504.40 404.63 h-1.4 M403.20 509.30 v-1.4 M403.20 378.80 v1.4 M359.40 418.22 h1.4 M504.40 418.22 h-1.4 M418.31 509.30 v-1.4 M418.31 378.80 v1.4 M359.40 431.82 h1.4 M504.40 431.82 h-1.4 M433.41 509.30 v-1.4 M433.41 378.80 v1.4 M359.40 445.41 h1.4 M504.40 445.41 h-1.4 M448.51 509.30 v-1.4 M448.51 378.80 v1.4 M359.40 459.00 h1.4 M504.40 459.00 h-1.4 M463.62 509.30 v-1.4 M463.62 378.80 v1.4 M359.40 472.60 h1.4 M504.40 472.60 h-1.4 M478.72 509.30 v-1.4 M478.72 378.80 v1.4 M359.40 486.19 h1.4 M504.40 486.19 h-1.4 M493.83 509.30 v-1.4 M493.83 378.80 v1.4 M359.40 499.78 h1.4 M504.40 499.78 h-1.4" stroke="#333" stroke-opacity="0.6" stroke-width="0.45" fill="none"/>
<rect x="509.40" y="378.80" width="10.60" height="130.50" fill="url(#cb)" stroke="#555" stroke-opacity="0.6" stroke-width="0.4"/>
<text x="521.80" y="511.26" font-family="'Liberation Sans', Arial, sans-serif" font-size="4.56" text-anchor="start" fill="#4a4a4a" font-weight="normal">0</text>
<text x="521.80" y="498.21" font-family="'Liberation Sans', Arial, sans-serif" font-size="4.56" text-anchor="start" fill="#4a4a4a" font-weight="normal">0.1</text>
<text x="521.80" y="485.16" font-family="'Liberation Sans', Arial, sans-serif" font-size="4.56" text-anchor="start" fill="#4a4a4a" font-weight="normal">0.2</text>
<text x="521.80" y="472.11" font-family="'Liberation Sans', Arial, sans-serif" font-size="4.56" text-anchor="start" fill="#4a4a4a" font-weight="normal">0.3</text>
<text x="521.80" y="459.06" font-family="'Liberation Sans', Arial, sans-serif" font-size="4.56" text-anchor="start" fill="#4a4a4a" font-weight="normal">0.4</text>
<text x="521.80" y="446.01" font-family="'Liberation Sans', Arial, sans-serif" font-size="4.56" text-anchor="start" fill="#4a4a4a" font-weight="normal">0.5</text>
<text x="521.80" y="432.96" font-family="'Liberation Sans', Arial, sans-serif" font-size="4.56" text-anchor="start" fill="#4a4a4a" font-weight="normal">0.6</text>
<text x="521.80" y="419.91" font-family="'Liberation Sans', Arial, sans-serif" font-size="4.56" text-anchor="start" fill="#4a4a4a" font-weight="normal">0.7</text>
<text x="521.80" y="406.86" font-family="'Liberation Sans', Arial, sans-serif" font-size="4.56" text-anchor="start" fill="#4a4a4a" font-weight="normal">0.8</text>
<text x="521.80" y="393.81" font-family="'Liberation Sans', Arial, sans-serif" font-size="4.56" text-anchor="start" fill="#4a4a4a" font-weight="normal">0.9</text>
<text x="521.80" y="380.76" font-family="'Liberation Sans', Arial, sans-serif" font-size="4.56" text-anchor="start" fill="#4a4a4a" font-weight="normal">1</text>
<path d="M520.00 496.25 h-1.2 M520.00 483.20 h-1.2 M520.00 470.15 h-1.2 M520.00 457.10 h-1.2 M520.00 444.05 h-1.2 M520.00 431.00 h-1.2 M520.00 417.95 h-1.2 M520.00 404.90 h-1.2 M520.00 391.85 h-1.2" stroke="#333" stroke-opacity="0.55" stroke-width="0.4" fill="none"/>
<text x="2.4" y="186.2" font-family="'Liberation Serif', 'Times New Roman', serif" font-size="12.0" fill="#1a1a1a" stroke="#1a1a1a" stroke-width="0.2" textLength="289.0" lengthAdjust="spacingAndGlyphs">(<tspan font-weight="bold">a</tspan>) Spectral signatures used to generate the simulated data</text>
<text x="390.6" y="186.5" font-family="'Liberation Serif', 'Times New Roman', serif" font-size="12.0" fill="#1a1a1a" stroke="#1a1a1a" stroke-width="0.2" textLength="99.6" lengthAdjust="spacingAndGlyphs">(<tspan font-weight="bold">b</tspan>) Simulated image</text>
<text x="45.6" y="360.8" font-family="'Liberation Serif', 'Times New Roman', serif" font-size="12.0" fill="#1a1a1a" stroke="#1a1a1a" stroke-width="0.2" textLength="202.1" lengthAdjust="spacingAndGlyphs">(<tspan font-weight="bold">c</tspan>) The abundance map of end member 1</text>
<text x="339.6" y="360.5" font-family="'Liberation Serif', 'Times New Roman', serif" font-size="12.0" fill="#1a1a1a" stroke="#1a1a1a" stroke-width="0.2" textLength="204.0" lengthAdjust="spacingAndGlyphs">(<tspan font-weight="bold">d</tspan>) The abundance map of end member 2</text>
<text x="45.6" y="541.5" font-family="'Liberation Serif', 'Times New Roman', serif" font-size="12.0" fill="#1a1a1a" stroke="#1a1a1a" stroke-width="0.2" textLength="203.5" lengthAdjust="spacingAndGlyphs">(<tspan font-weight="bold">e</tspan>) The abundance map of end member 3</text>
<text x="341.0" y="541.4" font-family="'Liberation Serif', 'Times New Roman', serif" font-size="12.0" fill="#1a1a1a" stroke="#1a1a1a" stroke-width="0.2" textLength="202.0" lengthAdjust="spacingAndGlyphs">(<tspan font-weight="bold">f</tspan>) The abundance map of end member 4</text>
</svg>
</body>
</html>
